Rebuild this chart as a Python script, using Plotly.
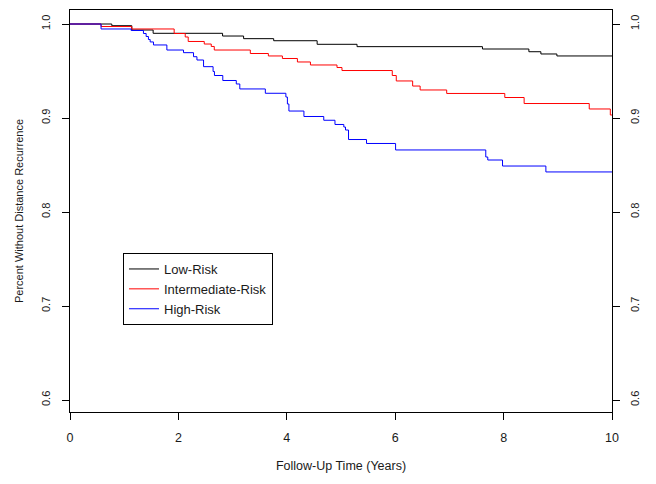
import plotly.graph_objects as go

# Kaplan-Meier step data (time in years, proportion free of distant recurrence)
low_t = [0, 0.771, 1.140, 1.534, 2.815, 3.203, 3.758, 4.560, 5.296, 7.610, 8.466, 8.688, 8.983, 10.0]
low_s = [1.0, 0.9982, 0.9936, 0.9901, 0.9872, 0.9844, 0.9822, 0.9784, 0.9759, 0.9734, 0.9705, 0.9681, 0.9660, 0.9660]

int_t = [0, 0.573, 1.140, 1.922, 2.126, 2.181, 2.477, 2.606, 2.662, 3.327, 3.660, 3.919, 4.196,
         4.436, 4.926, 5.018, 5.946, 6.020, 6.322, 6.460, 6.950, 8.022, 8.379, 9.580, 9.969, 10.0]
int_s = [1.0, 0.9973, 0.9947, 0.9899, 0.9862, 0.9814, 0.9787, 0.9761, 0.9723, 0.9686, 0.9660, 0.9633, 0.9596,
         0.9564, 0.9537, 0.9505, 0.9452, 0.9394, 0.9340, 0.9298, 0.9261, 0.9218, 0.9154, 0.9096, 0.9032, 0.9032]

high_t = [0, 0.573, 1.128, 1.355, 1.405, 1.447, 1.479, 1.540, 1.787, 2.094, 2.279, 2.342, 2.464, 2.640, 2.665,
          2.819, 3.068, 3.133, 3.604, 3.983, 4.011, 4.039, 4.316, 4.682, 4.889, 5.052, 5.083, 5.139, 5.471,
          6.007, 7.671, 7.708, 7.980, 8.780, 10.0]
high_s = [1.0, 0.9947, 0.9931, 0.9899, 0.9867, 0.9835, 0.9809, 0.9777, 0.9723, 0.9695, 0.9652, 0.9617, 0.9546, 0.9495, 0.9452,
          0.9399, 0.9362, 0.9309, 0.9263, 0.9223, 0.9149, 0.9074, 0.9016, 0.8976, 0.8931, 0.8904, 0.8872, 0.8771, 0.8729,
          0.8660, 0.8585, 0.8553, 0.8489, 0.8426, 0.8426]

x_ticks = [0, 2, 4, 6, 8, 10]
y_ticks = [0.6, 0.7, 0.8, 0.9, 1.0]
y_labels = ["0.6", "0.7", "0.8", "0.9", "1.0"]

FONT = "Arial, Liberation Sans, sans-serif"
TXT = "#1a1a1a"
yr = [0.58723, 1.01489]

fig = go.Figure()
fig.add_trace(go.Scatter(x=low_t, y=low_s, mode="lines", line=dict(color="#000000", width=1, shape="hv"), name="Low-Risk"))
fig.add_trace(go.Scatter(x=int_t, y=int_s, mode="lines", line=dict(color="#FF0000", width=1, shape="hv"), name="Intermediate-Risk"))
fig.add_trace(go.Scatter(x=high_t, y=high_s, mode="lines", line=dict(color="#0000FF", width=1, shape="hv"), name="High-Risk"))
# invisible trace on right axis so it renders
fig.add_trace(go.Scatter(x=[0], y=[1.0], yaxis="y2", mode="lines", line=dict(width=0), showlegend=False, hoverinfo="skip"))

fig.update_layout(
    width=656, height=484,
    margin=dict(l=70, r=44, t=10, b=72),
    paper_bgcolor="white", plot_bgcolor="white",
    font=dict(family=FONT, size=12, color=TXT),
    showlegend=True,
    legend=dict(x=0.0978, y=0.3955, xanchor="left", yanchor="top",
                bordercolor="#000000", borderwidth=1, bgcolor="white",
                font=dict(family=FONT, size=13, color=TXT)),
    xaxis=dict(range=[0, 10], tickvals=x_ticks, ticks="outside", ticklen=7, tickcolor="#000",
               ticklabelstandoff=7, automargin=False, tickfont=dict(size=12.5),
               showline=True, linecolor="#000", linewidth=1, mirror=True, showgrid=False, zeroline=False,
               title=dict(text="Follow-Up Time (Years)", standoff=17, font=dict(size=12.5))),
    yaxis=dict(range=yr, tickvals=y_ticks, ticktext=y_labels, ticks="outside", ticklen=7, tickcolor="#000",
               tickangle=-90, ticklabelstandoff=8, automargin=False, tickfont=dict(size=11),
               showline=True, linecolor="#000", linewidth=1, showgrid=False, zeroline=False,
               title=dict(text="Percent Without Distance Recurrence", standoff=13, font=dict(size=11))),
    yaxis2=dict(range=yr, tickvals=y_ticks, ticktext=y_labels, ticks="outside", ticklen=7, tickcolor="#000",
                tickangle=-90, ticklabelstandoff=6, automargin=False, tickfont=dict(size=11),
                overlaying="y", side="right", showline=True, linecolor="#000", linewidth=1,
                showgrid=False, zeroline=False),
)

fig.write_html("out.html", config={"displayModeBar": False},
               post_script="document.body.style.margin='0';document.body.style.padding='0';")
